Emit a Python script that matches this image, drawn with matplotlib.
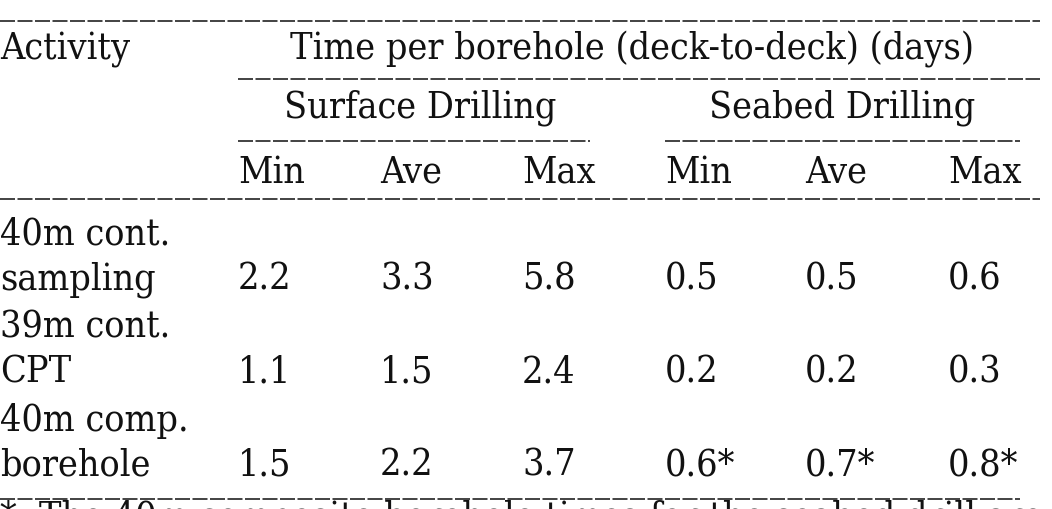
import matplotlib
matplotlib.use("Agg")
import matplotlib.pyplot as plt

activities = [["40m cont.", "sampling"], ["39m cont.", "CPT"], ["40m comp.", "borehole"]]
col_labels = ["Min", "Ave", "Max", "Min", "Ave", "Max"]
values = [["2.2", "3.3", "5.8", "0.5", "0.5", "0.6"],
          ["1.1", "1.5", "2.4", "0.2", "0.2", "0.3"],
          ["1.5", "2.2", "3.7", "0.6*", "0.7*", "0.8*"]]
groups = ["Surface Drilling", "Seabed Drilling"]
header = "Time per borehole (deck-to-deck) (days)"
footnote = "*: The 40m composite borehole times for the seabed drill are estimates"

fig = plt.figure(figsize=(10.52, 5.10), dpi=100)
ax = fig.add_axes([0, 0, 1, 1])
ax.set_xlim(0, 1052); ax.set_ylim(510, 0); ax.axis("off")
fp = dict(family="DejaVu Serif", stretch="condensed", fontsize=27, color="#111111", va="baseline")

def rule(y, x0, x1):
    ax.plot([x0, x1], [y, y], color="#222222", lw=1.2, ls=(0, (9, 1.5)))

rule(22, 0, 1040)
ax.text(0, 60, "Activity", ha="left", **fp)
ax.text(632, 60, header, ha="center", **fp)
rule(80, 238, 1040)
ax.text(420, 118, groups[0], ha="center", **fp)
ax.text(842, 118, groups[1], ha="center", **fp)
rule(142, 238, 590); rule(142, 665, 1020)
xs = [238, 380, 522, 665, 805, 948]
for x, lab in zip(xs, col_labels):
    ax.text(x, 183, lab, ha="left", **fp)
rule(200, 0, 1040)
for i, (act, row) in enumerate(zip(activities, values)):
    base = 290 + i * 93
    ax.text(0, base - 45, act[0], ha="left", **fp)
    ax.text(0, base, act[1], ha="left", **fp)
    for x, v in zip(xs, row):
        ax.text(x, base, v, ha="left", **fp)
rule(500, 0, 1020)
ax.text(0, 528, footnote, ha="left", clip_on=False, **fp)
fig.savefig("out.png", dpi=100)
